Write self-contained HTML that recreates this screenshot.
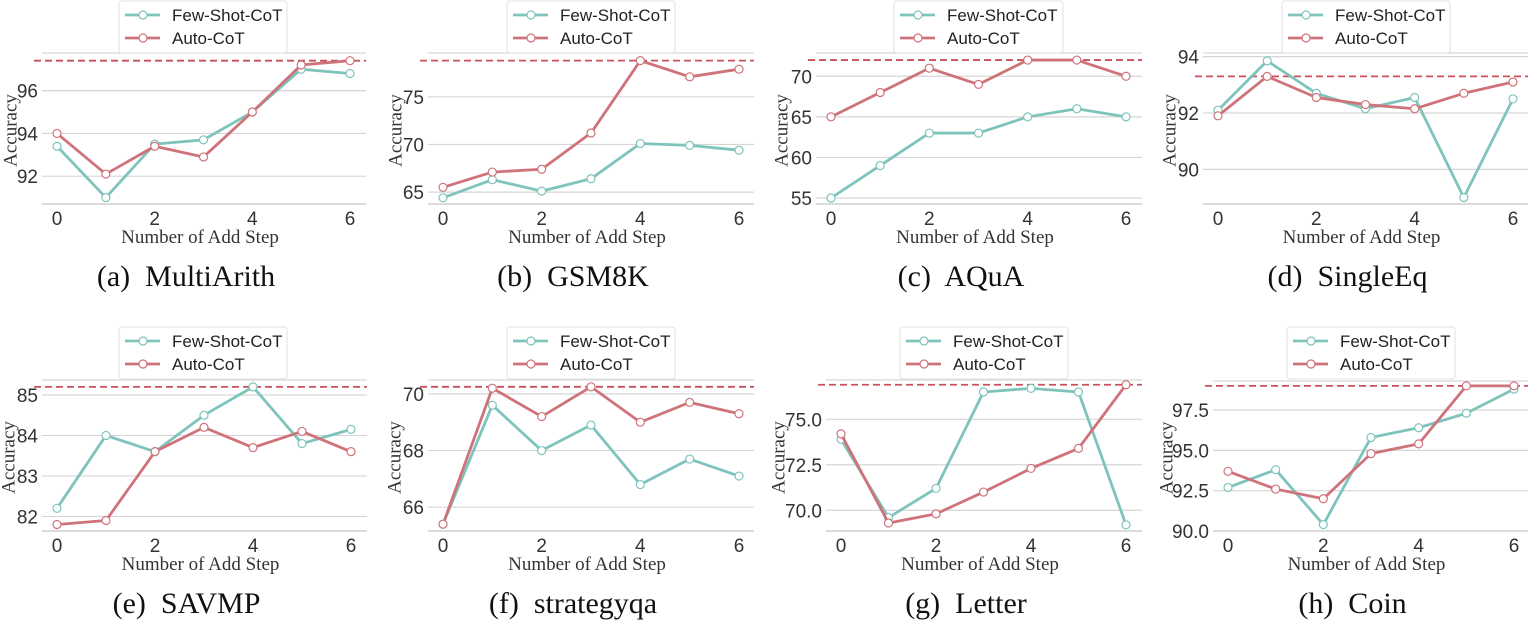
<!DOCTYPE html>
<html><head><meta charset="utf-8"><style>
html,body{margin:0;padding:0;background:#fff;}
svg{display:block;}
.tk{font-family:"Liberation Sans",sans-serif;font-size:19px;fill:#333;}
.lab{font-family:"Liberation Serif",serif;font-size:19px;fill:#333;}
.ttl{font-family:"Liberation Serif",serif;font-size:30px;fill:#111;white-space:pre;}
.lg{font-family:"Liberation Sans",sans-serif;font-size:17px;fill:#222;}
</style></head><body>
<svg id="fig" width="1531" height="623" viewBox="0 0 1531 623" xmlns="http://www.w3.org/2000/svg"></svg>
<script>
const steps = [0,1,2,3,4,5,6];
const xTicks = [0,2,4,6];
const titles = ["(a)  MultiArith","(b)  GSM8K","(c)  AQuA","(d)  SingleEq","(e)  SAVMP","(f)  strategyqa","(g)  Letter","(h)  Coin"];
const fewA=[93.4,91.0,93.5,93.7,95.0,97.0,96.8], autoA=[94.0,92.1,93.4,92.9,95.0,97.2,97.4];
const fewB=[64.4,66.3,65.1,66.4,70.1,69.9,69.4], autoB=[65.5,67.1,67.4,71.2,78.8,77.1,77.9];
const fewC=[55,59,63,63,65,66,65], autoC=[65,68,71,69,72,72,70];
const fewD=[92.1,93.85,92.7,92.15,92.55,89.0,92.5], autoD=[91.9,93.3,92.55,92.3,92.15,92.7,93.1];
const fewE=[82.2,84.0,83.6,84.5,85.2,83.8,84.15], autoE=[81.8,81.9,83.6,84.2,83.7,84.1,83.6];
const fewF=[65.4,69.6,68.0,68.9,66.8,67.7,67.1], autoF=[65.4,70.2,69.2,70.25,69.0,69.7,69.3];
const fewG=[73.9,69.6,71.2,76.5,76.7,76.5,69.2], autoG=[74.2,69.3,69.8,71.0,72.3,73.4,76.9];
const fewH=[92.7,93.8,90.4,95.8,96.4,97.3,98.8], autoH=[93.7,92.6,92.0,94.8,95.4,99.0,99.0];
const fewAll=[fewA,fewB,fewC,fewD,fewE,fewF,fewG,fewH];
const autoAll=[autoA,autoB,autoC,autoD,autoE,autoF,autoG,autoH];
const refLines=[97.4,78.8,72,93.3,85.2,70.25,76.9,99.0];
const yTickVals=[[92,94,96],[65,70,75],[55,60,65,70],[90,92,94],[82,83,84,85],[66,68,70],[70,72.5,75],[90,92.5,95,97.5]];
const yTickLabels=[["92","94","96"],["65","70","75"],["55","60","65","70"],["90","92","94"],["82","83","84","85"],["66","68","70"],["70.0","72.5","75.0"],["90.0","92.5","95.0","97.5"]];
const yDomains=[[90.7,97.76],[63.75,79.6],[54.26,72.87],[88.77,94.13],[81.64,85.37],[65.16,70.49],[68.86,77.16],[90,99.3]];
const L=[
 {l:42,r:366,x0:57,x6:350,t:53,b:204,yl:11,lx:119,lw:168,ly:1},
 {l:428,r:754,x0:443,x6:739,t:53,b:204,yl:396,lx:507,lw:168,ly:1},
 {l:816,r:1142,x0:831,x6:1126,t:53,b:204,yl:782,lx:894,lw:169,ly:1},
 {l:1203,r:1528,x0:1218,x6:1513,t:53,b:204,yl:1170,lx:1282,lw:168,ly:1},
 {l:42,r:367,x0:57,x6:351,t:380,b:531,yl:9,lx:119,lw:168,ly:327},
 {l:428,r:754,x0:443,x6:739,t:380,b:531,yl:395,lx:507,lw:168,ly:327},
 {l:826,r:1142,x0:841,x6:1126,t:380,b:531,yl:779,lx:900,lw:168,ly:327},
 {l:1213,r:1528,x0:1228,x6:1514,t:381,b:531,yl:1167,lx:1287,lw:168,ly:327}
];
const TEAL="#7ec4bc", RED="#cf737b";
const NS="http://www.w3.org/2000/svg";
const svg=document.getElementById('fig');
function mk(tag,attrs,parent,text){const e=document.createElementNS(NS,tag);for(const k in attrs)e.setAttribute(k,attrs[k]);if(text!==undefined)e.textContent=text;parent.appendChild(e);return e;}
for(let p=0;p<8;p++){
  const o=L[p], dom=yDomains[p];
  const g=mk('g',{},svg);
  
  
  const X=v=>o.x0+(o.x6-o.x0)*v/6;
  const Y=v=>o.b-(o.b-o.t)*(v-dom[0])/(dom[1]-dom[0]);
  let e=mk('line',{x1:o.l,x2:o.r,y1:o.t,y2:o.t,stroke:'#d6d6d6','stroke-width':1.2},g);
  
  e=mk('line',{x1:o.l,x2:o.r,y1:o.b,y2:o.b,stroke:'#cfcfcf','stroke-width':1.4},g);
  
  yTickVals[p].forEach((v,i)=>{
    const y=Y(v);
    const gl=mk('line',{x1:o.l,x2:o.r,y1:y,y2:y,stroke:'#d6d6d6','stroke-width':1.2},g);
    
    const t=mk('text',{x:o.l-4,y:y+7,'text-anchor':'end',class:'tk'},g,yTickLabels[p][i]);
    
  });
  xTicks.forEach(v=>{
    const t=mk('text',{x:X(v),y:o.b+21,'text-anchor':'middle',class:'tk'},g,String(v));
    
  });
  const yc=(o.t+o.b)/2+2;
  e=mk('text',{x:o.yl,y:yc,'text-anchor':'middle',class:'lab',transform:`rotate(-90 ${o.yl} ${yc})`,'dominant-baseline':'central'},g,'Accuracy');
  
  e=mk('text',{x:(o.l+o.r)/2-4,y:o.b+39,'text-anchor':'middle',class:'lab'},g,'Number of Add Step');
  
  e=mk('text',{x:(o.l+o.r)/2-18,y:o.b+82,'text-anchor':'middle',class:'ttl'},g,titles[p]);
  e.setAttribute('xml:space','preserve');
  
  const ry=Y(refLines[p]);
  e=mk('line',{x1:o.l-8,x2:o.r,y1:ry,y2:ry,stroke:'#c9515b','stroke-width':1.8,'stroke-dasharray':'7,4'},g);
  
  [[fewAll[p],TEAL,'few-shot-cot'],[autoAll[p],RED,'auto-cot']].forEach(([vals,col,nm])=>{
    const pts=steps.map((s,i)=>X(s)+','+Y(vals[i])).join(' ');
    const pl=mk('polyline',{points:pts,fill:'none',stroke:col,'stroke-width':2.8,'stroke-linejoin':'round'},g);
    
    steps.forEach((s,i)=>{
      const c=mk('circle',{cx:X(s),cy:Y(vals[i]),r:4,fill:'#fff',stroke:col,'stroke-width':1.2},g);
      
    });
  });
  const lg=mk('g',{},g);
  
  mk('rect',{x:o.lx,y:o.ly,width:o.lw,height:52,rx:3,fill:'#fff',stroke:'#e0e0e0','stroke-width':1},lg);
  [['Few-Shot-CoT',TEAL,14],['Auto-CoT',RED,37]].forEach(([txt,col,dy])=>{
    const yy=o.ly+dy;
    const ln=mk('line',{x1:o.lx+6,x2:o.lx+41,y1:yy,y2:yy,stroke:col,'stroke-width':2.8},lg);
    
    mk('circle',{cx:o.lx+24,cy:yy,r:4,fill:'#fff',stroke:col,'stroke-width':1.2},lg);
    const t=mk('text',{x:o.lx+53,y:yy+6,class:'lg'},lg,txt);
    
  });
}
</script>
</body></html>
